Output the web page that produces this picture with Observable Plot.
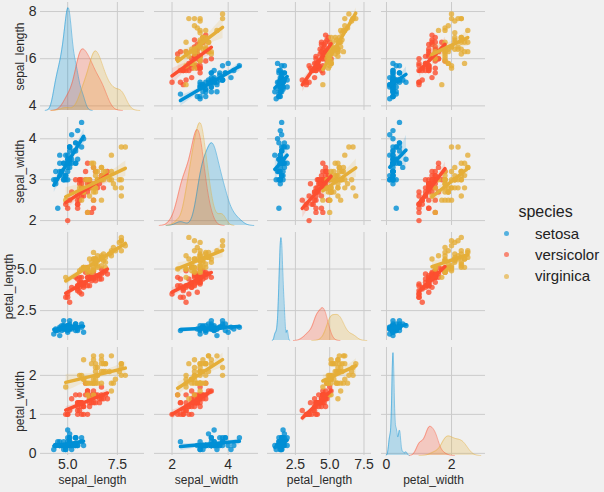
<!DOCTYPE html>
<html><head><meta charset="utf-8">
<script src="https://cdn.jsdelivr.net/npm/d3@7"></script>
<script src="https://cdn.jsdelivr.net/npm/@observablehq/plot@0.6"></script>
<style>
html,body{margin:0;padding:0;background:#f0f0f0;}
#chart{position:relative;width:604px;height:492px;overflow:hidden;background:#f0f0f0;font-family:"Liberation Sans",Arial,sans-serif;}
#chart svg{position:absolute;overflow:visible;}
.lg{position:absolute;white-space:nowrap;color:#222;}
</style></head><body><div id="chart"></div>
<script>
// ---- data (Fisher's iris, 50 rows per species in order) ----
const species = ["setosa", "versicolor", "virginica"];
const speciesCounts = [50, 50, 50];
const colors = ["#008fd5", "#fc4f30", "#e5ae38"];
const variables = ["sepal_length", "sepal_width", "petal_length", "petal_width"];

const sepal_length = [
5.1,4.9,4.7,4.6,5.0,5.4,4.6,5.0,4.4,4.9,5.4,4.8,4.8,4.3,5.8,5.7,5.4,5.1,5.7,5.1,5.4,5.1,4.6,5.1,4.8,5.0,5.0,5.2,5.2,4.7,4.8,5.4,5.2,5.5,4.9,5.0,5.5,4.9,4.4,5.1,5.0,4.5,4.4,5.0,5.1,4.8,5.1,4.6,5.3,5.0,
7.0,6.4,6.9,5.5,6.5,5.7,6.3,4.9,6.6,5.2,5.0,5.9,6.0,6.1,5.6,6.7,5.6,5.8,6.2,5.6,5.9,6.1,6.3,6.1,6.4,6.6,6.8,6.7,6.0,5.7,5.5,5.5,5.8,6.0,5.4,6.0,6.7,6.3,5.6,5.5,5.5,6.1,5.8,5.0,5.6,5.7,5.7,6.2,5.1,5.7,
6.3,5.8,7.1,6.3,6.5,7.6,4.9,7.3,6.7,7.2,6.5,6.4,6.8,5.7,5.8,6.4,6.5,7.7,7.7,6.0,6.9,5.6,7.7,6.3,6.7,7.2,6.2,6.1,6.4,7.2,7.4,7.9,6.4,6.3,6.1,7.7,6.3,6.4,6.0,6.9,6.7,6.9,5.8,6.8,6.7,6.7,6.3,6.5,6.2,5.9];
const sepal_width = [
3.5,3.0,3.2,3.1,3.6,3.9,3.4,3.4,2.9,3.1,3.7,3.4,3.0,3.0,4.0,4.4,3.9,3.5,3.8,3.8,3.4,3.7,3.6,3.3,3.4,3.0,3.4,3.5,3.4,3.2,3.1,3.4,4.1,4.2,3.1,3.2,3.5,3.6,3.0,3.4,3.5,2.3,3.2,3.5,3.8,3.0,3.8,3.2,3.7,3.3,
3.2,3.2,3.1,2.3,2.8,2.8,3.3,2.4,2.9,2.7,2.0,3.0,2.2,2.9,2.9,3.1,3.0,2.7,2.2,2.5,3.2,2.8,2.5,2.8,2.9,3.0,2.8,3.0,2.9,2.6,2.4,2.4,2.7,2.7,3.0,3.4,3.1,2.3,3.0,2.5,2.6,3.0,2.6,2.3,2.7,3.0,2.9,2.9,2.5,2.8,
3.3,2.7,3.0,2.9,3.0,3.0,2.5,2.9,2.5,3.6,3.2,2.7,3.0,2.5,2.8,3.2,3.0,3.8,2.6,2.2,3.2,2.8,2.8,2.7,3.3,3.2,2.8,3.0,2.8,3.0,2.8,3.8,2.8,2.8,2.6,3.0,3.4,3.1,3.0,3.1,3.1,3.1,2.7,3.2,3.3,3.0,2.5,3.0,3.4,3.0];
const petal_length = [
1.4,1.4,1.3,1.5,1.4,1.7,1.4,1.5,1.4,1.5,1.5,1.6,1.4,1.1,1.2,1.5,1.3,1.4,1.7,1.5,1.7,1.5,1.0,1.7,1.9,1.6,1.6,1.5,1.4,1.6,1.6,1.5,1.5,1.4,1.5,1.2,1.3,1.4,1.3,1.5,1.3,1.3,1.3,1.6,1.9,1.4,1.6,1.4,1.5,1.4,
4.7,4.5,4.9,4.0,4.6,4.5,4.7,3.3,4.6,3.9,3.5,4.2,4.0,4.7,3.6,4.4,4.5,4.1,4.5,3.9,4.8,4.0,4.9,4.7,4.3,4.4,4.8,5.0,4.5,3.5,3.8,3.7,3.9,5.1,4.5,4.5,4.7,4.4,4.1,4.0,4.4,4.6,4.0,3.3,4.2,4.2,4.2,4.3,3.0,4.1,
6.0,5.1,5.9,5.6,5.8,6.6,4.5,6.3,5.8,6.1,5.1,5.3,5.5,5.0,5.1,5.3,5.5,6.7,6.9,5.0,5.7,4.9,6.7,4.9,5.7,6.0,4.8,4.9,5.6,5.8,6.1,6.4,5.6,5.1,5.6,6.1,5.6,5.5,4.8,5.4,5.6,5.1,5.1,5.9,5.7,5.2,5.0,5.2,5.4,5.1];
const petal_width = [
0.2,0.2,0.2,0.2,0.2,0.4,0.3,0.2,0.2,0.1,0.2,0.2,0.1,0.1,0.2,0.4,0.4,0.3,0.3,0.3,0.2,0.4,0.2,0.5,0.2,0.2,0.4,0.2,0.2,0.2,0.2,0.4,0.1,0.2,0.2,0.2,0.2,0.1,0.2,0.2,0.3,0.3,0.2,0.6,0.4,0.3,0.2,0.2,0.2,0.2,
1.4,1.5,1.5,1.3,1.5,1.3,1.6,1.0,1.3,1.4,1.0,1.5,1.0,1.4,1.3,1.4,1.5,1.0,1.5,1.1,1.8,1.3,1.5,1.2,1.3,1.4,1.4,1.7,1.5,1.0,1.1,1.0,1.2,1.6,1.5,1.6,1.5,1.3,1.3,1.3,1.2,1.4,1.2,1.0,1.3,1.2,1.3,1.3,1.1,1.3,
2.5,1.9,2.1,1.8,2.2,2.1,1.7,1.8,1.8,2.5,2.0,1.9,2.1,2.0,2.4,2.3,1.8,2.2,2.3,1.5,2.3,2.0,2.0,1.8,2.1,1.8,1.8,1.8,2.1,1.6,1.9,2.0,2.2,1.5,1.4,2.3,2.4,1.8,1.8,2.1,2.4,2.3,1.9,2.3,2.5,2.3,1.9,2.0,2.3,1.8];

// tick values and labels
const sepal_length_ticksX = [5.0, 7.5], sepal_length_ticksY = [4, 6, 8];
const sepal_width_ticksX = [2, 4], sepal_width_ticksY = [2, 3, 4];
const petal_length_ticksX = [2.5, 5.0, 7.5], petal_length_ticksY = [2.5, 5.0];
const petal_width_ticksX = [0, 2], petal_width_ticksY = [0, 1, 2];

// ---- build table ----
const columns = {sepal_length, sepal_width, petal_length, petal_width};
const speciesOf = speciesCounts.flatMap((n, k) => Array(n).fill(species[k]));
const table = sepal_length.map((_, i) => ({
  species: speciesOf[i],
  sepal_length: sepal_length[i], sepal_width: sepal_width[i],
  petal_length: petal_length[i], petal_width: petal_width[i]
}));
const groups = species.map(s => table.filter(d => d.species === s));
const ticksX = {sepal_length: sepal_length_ticksX, sepal_width: sepal_width_ticksX, petal_length: petal_length_ticksX, petal_width: petal_width_ticksX};
const ticksY = {sepal_length: sepal_length_ticksY, sepal_width: sepal_width_ticksY, petal_length: petal_length_ticksY, petal_width: petal_width_ticksY};
const fmtX = {sepal_length: d3.format(".1f"), sepal_width: d3.format("d"), petal_length: d3.format(".1f"), petal_width: d3.format("d")};
const fmtY = {sepal_length: d3.format("d"), sepal_width: d3.format("d"), petal_length: d3.format(".1f"), petal_width: d3.format("d")};

// ---- KDE (Gaussian, Scott bandwidth as statsmodels, cut = 3) ----
function bandwidth(v) {
  const s = v.slice().sort(d3.ascending);
  const sd = d3.deviation(v);
  const iqr = (d3.quantile(s, 0.75) - d3.quantile(s, 0.25)) / 1.349;
  const A = iqr > 0 ? Math.min(sd, iqr) : sd;
  return 1.059 * A * Math.pow(v.length, -0.2);
}
function kde(v) {
  const bw = bandwidth(v);
  const a = d3.min(v) - 3 * bw, b = d3.max(v) + 3 * bw, n = 120;
  return d3.range(n).map(i => {
    const x = a + (b - a) * i / (n - 1);
    let s = 0;
    for (const xi of v) { const z = (x - xi) / bw; s += Math.exp(-0.5 * z * z); }
    return {x, density: s / (v.length * bw * Math.sqrt(2 * Math.PI))};
  });
}
const kdes = {};
for (const v of variables) kdes[v] = groups.map(g => kde(g.map(d => d[v])));

function pad(ext) { const m = (ext[1] - ext[0]) * 0.05; return [ext[0] - m, ext[1] + m]; }

// column (x) domains: data + kde support
const xDomain = {};
for (const v of variables) {
  const vals = columns[v].concat(kdes[v].flatMap(c => [c[0].x, c[c.length - 1].x]));
  xDomain[v] = pad(d3.extent(vals));
}
// row (y) domains: data + regression confidence bands
function ciEnds(xs, ys) {
  const n = xs.length, mx = d3.mean(xs), my = d3.mean(ys);
  let sxx = 0, sxy = 0;
  for (let i = 0; i < n; i++) { sxx += (xs[i] - mx) ** 2; sxy += (xs[i] - mx) * (ys[i] - my); }
  const b = sxy / sxx, a = my - b * mx;
  let sse = 0;
  for (let i = 0; i < n; i++) sse += (ys[i] - a - b * xs[i]) ** 2;
  const s = Math.sqrt(sse / (n - 2)), t = 2.0106;
  const out = [];
  for (const x of d3.extent(xs)) {
    const yh = a + b * x, h = t * s * Math.sqrt(1 / n + (x - mx) ** 2 / sxx);
    out.push(yh - h, yh + h);
  }
  return out;
}
const yDomain = {};
for (const rv of variables) {
  let vals = columns[rv].slice();
  for (const cv of variables) if (cv !== rv)
    for (const g of groups) vals = vals.concat(ciEnds(g.map(d => d[cv]), g.map(d => d[rv])));
  yDomain[rv] = pad(d3.extent(vals));
}

// ---- layout ----
const PW = 104, PH = 108;
const colLeft = j => 40 + j * 113.7;
const rowTop = i => 2 + i * 115;
const M = {top: 10, right: 10, bottom: 40, left: 42};
const FONT = '"Liberation Sans", Arial, sans-serif';
const chart = document.getElementById("chart");
const gridStyle = {stroke: "#cbcbcb", strokeOpacity: 1, strokeWidth: 1};
const yLabelOffset = {sepal_length: -20, sepal_width: -20, petal_length: -31, petal_width: -20};

function place(svg, i, j) {
  svg.style.left = (colLeft(j) - M.left) + "px";
  svg.style.top = (rowTop(i) - M.top) + "px";
  chart.appendChild(svg);
}
function common() {
  return {
    width: PW + M.left + M.right, height: PH + M.top + M.bottom,
    marginTop: M.top, marginRight: M.right, marginBottom: M.bottom, marginLeft: M.left,
    style: {background: "transparent", overflow: "visible", fontFamily: FONT, color: "#2b2b2b"}
  };
}

for (let i = 0; i < 4; i++) {
  for (let j = 0; j < 4; j++) {
    const rv = variables[i], cv = variables[j];
    const marks = [Plot.gridX(ticksX[cv], gridStyle), Plot.gridY(ticksY[rv], gridStyle)];
    if (i !== j) {
      groups.forEach((g, k) => {
        marks.push(Plot.dot(g, {x: cv, y: rv, r: 2.7, fill: colors[k], fillOpacity: 0.8, stroke: "none"}));
        marks.push(Plot.linearRegressionY(g, {x: cv, y: rv, ci: 0.95, fill: colors[k], fillOpacity: 0.15, stroke: "none"}));
      });
      groups.forEach((g, k) => {
        marks.push(Plot.linearRegressionY(g, {x: cv, y: rv, ci: 0, stroke: colors[k], strokeWidth: 3.5}));
      });
    }
    if (j === 0) {
      marks.push(Plot.axisY(ticksY[rv], {tickSize: 0, tickPadding: 4, fontSize: 14, tickFormat: fmtY[rv], label: null}));
      marks.push(Plot.text([rv], {text: d => d, frameAnchor: "left", textAnchor: "middle", lineAnchor: "middle", dx: yLabelOffset[rv], rotate: -90, fontSize: 12}));
    }
    if (i === 3) {
      marks.push(Plot.axisX(ticksX[cv], {tickSize: 0, tickPadding: 4, fontSize: 14, tickFormat: fmtX[cv], label: null}));
      marks.push(Plot.text([cv], {text: d => d, frameAnchor: "bottom", lineAnchor: "middle", dy: 25, fontSize: 12}));
    }
    const svg = Plot.plot({...common(),
      x: {domain: xDomain[cv], axis: null},
      y: {domain: yDomain[rv], axis: null},
      marks});
    place(svg, i, j);
  }
}

// diagonal KDE overlays (own density scale per panel)
variables.forEach((v, i) => {
  const curves = kdes[v];
  const ymax = d3.max(curves.flat(), d => d.density);
  const marks = [];
  curves.forEach((c, k) => marks.push(Plot.areaY(c, {x: "x", y: "density", fill: colors[k], fillOpacity: 0.25})));
  curves.forEach((c, k) => marks.push(Plot.lineY(c, {x: "x", y: "density", stroke: colors[k], strokeWidth: 1, strokeOpacity: 0.45})));
  const svg = Plot.plot({...common(),
    x: {domain: xDomain[v], axis: null},
    y: {domain: [0, ymax * 1.05], axis: null},
    marks});
  place(svg, i, i);
});

// ---- legend ----
const legendTitle = "species";
function addDiv(text, left, centerY, size, anchorCenter) {
  const d = document.createElement("div");
  d.className = "lg";
  d.textContent = text;
  d.style.fontSize = size + "px";
  d.style.lineHeight = "20px";
  d.style.top = (centerY - 10) + "px";
  if (anchorCenter) { d.style.left = (left - 60) + "px"; d.style.width = "120px"; d.style.textAlign = "center"; }
  else d.style.left = left + "px";
  chart.appendChild(d);
}
addDiv(legendTitle, 545.5, 211.5, 16, true);
species.forEach((s, k) => {
  const cy = 233.5 + k * 21.3;
  const dot = document.createElement("div");
  dot.style.cssText = `position:absolute;left:${506.7 - 2.5}px;top:${cy - 2.5}px;width:5px;height:5px;border-radius:50%;background:${colors[k]};opacity:0.65;`;
  chart.appendChild(dot);
  addDiv(s, 535, cy, 15, false);
});
</script></body></html>
